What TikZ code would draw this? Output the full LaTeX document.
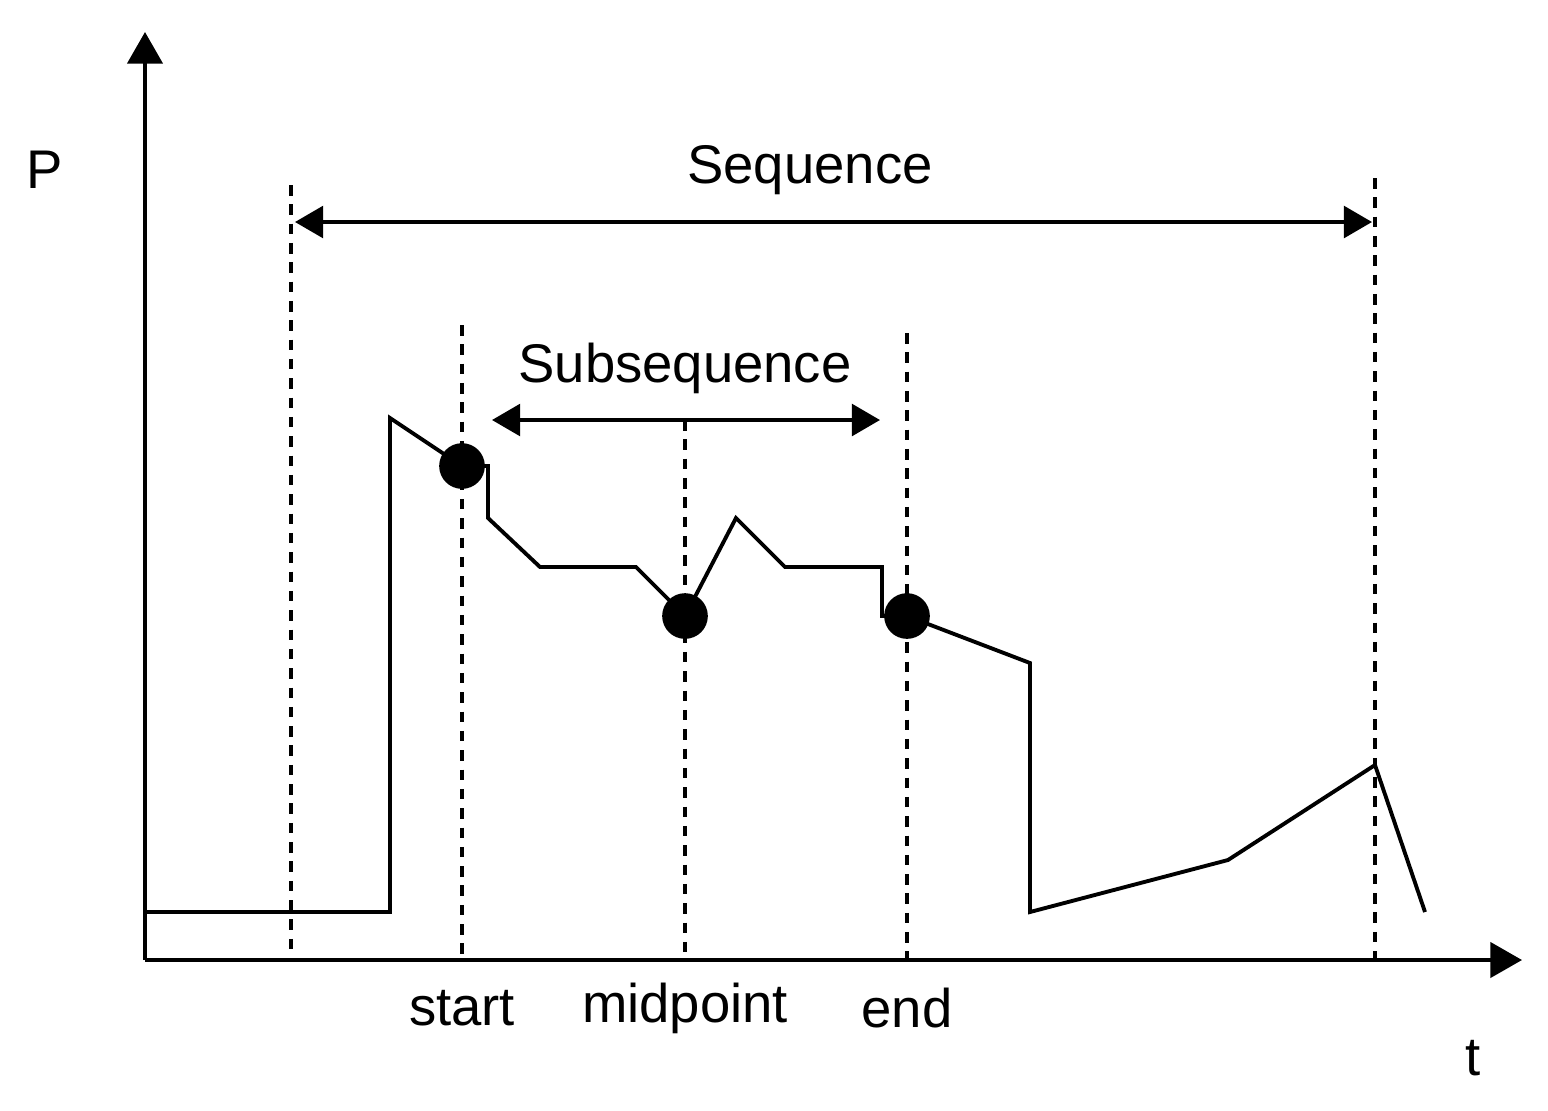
\documentclass[tikz,border=0pt]{standalone}
\usepackage{fontspec}
\setmainfont{Liberation Sans}
\usetikzlibrary{arrows.meta}
\begin{document}
\begin{tikzpicture}[x=0.02cm,y=-0.02cm,
  ln/.style={line width=2.2pt,line join=miter},
  dsh/.style={line width=1.8pt,dash pattern=on 6pt off 5pt},
  arr/.style={ln,{Triangle[length=16pt,width=18pt]}-{Triangle[length=16pt,width=18pt]}},
  lbl/.style={font=\fontsize{31}{36}\selectfont,inner sep=0pt},
  dot/.style={circle,fill=black,inner sep=0pt,minimum size=26pt}]
\useasboundingbox (0,0) rectangle (1548,1110);
\coordinate (o) at (145,960);
\coordinate (ytop) at (145,32);
\coordinate (xend) at (1522,960);
\draw[ln,-{Triangle[length=18pt,width=20pt]}] (o) -- (ytop);
\draw[ln,-{Triangle[length=18pt,width=20pt]}] (o) -- (xend);
\node[lbl] (P) at (45,170) {P};
\node[lbl] (t) at (1473,1058) {t};
% dashed verticals
\coordinate (s1t) at (291,185); \coordinate (s1b) at (291,960);
\coordinate (s2t) at (1375,178); \coordinate (s2b) at (1375,960);
\coordinate (st) at (462,325); \coordinate (sb) at (462,960);
\coordinate (mt) at (685,420); \coordinate (mb) at (685,960);
\coordinate (et) at (907,333); \coordinate (eb) at (907,960);
\foreach \a/\b in {s1t/s1b,s2t/s2b,st/sb,mt/mb,et/eb} \draw[dsh] (\a) -- (\b);
% curve
\draw[ln] (145,912) -- (390,912) -- (390,418) -- (462,466) -- (488,466) -- (488,518)
  -- (540,567) -- (636,567) -- (685,616) -- (736,518) -- (785,567) -- (882,567)
  -- (882,616) -- (907,616) -- (1030,663) -- (1030,912) -- (1228,860) -- (1375,765) -- (1425,912);
\node[dot] (d1) at (462,466) {};
\node[dot] (d2) at (685,616) {};
\node[dot] (d3) at (907,616) {};
% arrows
\coordinate (a1) at (295,222); \coordinate (a2) at (1372,222);
\draw[arr] (a1) -- (a2);
\coordinate (b1) at (492,420); \coordinate (b2) at (880,420);
\draw[arr] (b1) -- (b2);
\node[lbl] (seq) at (810,170) {Sequence};
\node[lbl] (sub) at (685,368) {Subsequence};
\node[lbl] (lst) at (462,1008) {start};
\node[lbl] (lmid) at (685,1008) {midpoint};
\node[lbl] (lend) at (907,1008) {end};
\end{tikzpicture}
\end{document}
